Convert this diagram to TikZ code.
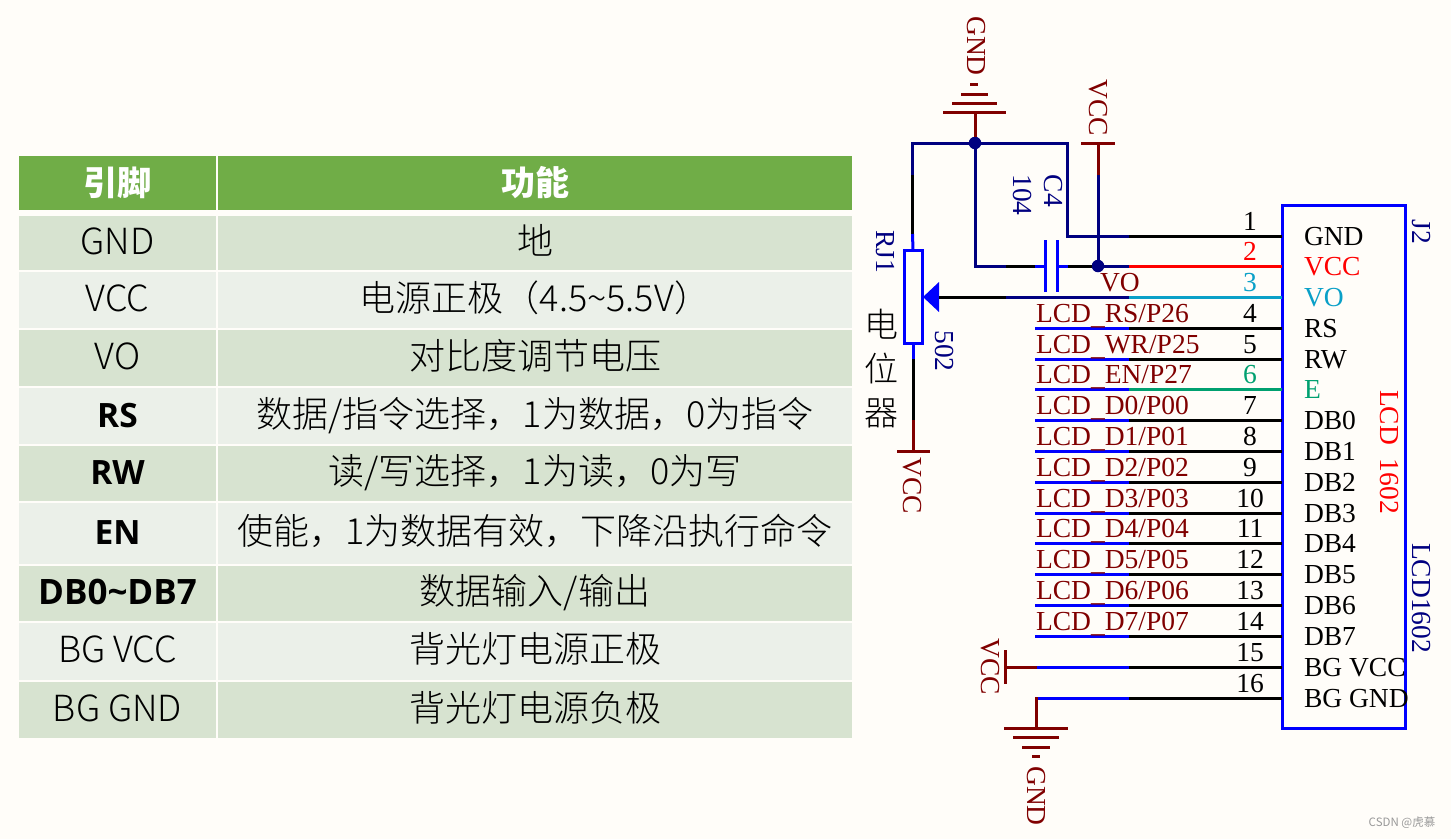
\documentclass[tikz,border=0pt]{standalone}
\usepackage{fontspec}
\setmainfont{Liberation Serif}
\newfontfamily\tblfont{Noto Sans CJK SC Light}
\newfontfamily\headfont{Noto Sans CJK SC}
\newfontfamily\boldlat{Open Sans}
\definecolor{pagebg}{HTML}{FFFDF9}
\definecolor{headgreen}{HTML}{70AD47}
\definecolor{rowa}{HTML}{D7E3D0}
\definecolor{rowb}{HTML}{EBF0E9}
\definecolor{navy}{HTML}{000080}
\definecolor{pblue}{HTML}{0000FF}
\definecolor{dred}{HTML}{800000}
\definecolor{vocyan}{HTML}{0AA0C8}
\definecolor{egreen}{HTML}{00A070}
\newcommand{\us}{\raisebox{-2pt}{\_}}
\tikzset{
  x=1pt,y=-1pt,
  cell/.style={inner sep=0pt,outer sep=0pt,font=\tblfont\fontsize{36}{40}\selectfont,text height=28pt,text depth=6pt,align=center},
  headcell/.style={cell,fill=headgreen,text=white,font=\headfont\bfseries\fontsize{34}{38}\selectfont,text height=31pt,text depth=6pt},
  wire/.style={line width=3pt,line cap=butt,line join=miter},
  sch/.style={inner sep=0pt,outer sep=0pt,font=\fontsize{27.5}{30}\selectfont},
  rot/.style={sch,rotate=-90,anchor=center},
  pinnum/.style={sch,anchor=base},
  pinname/.style={sch,anchor=base west},
  netlabel/.style={sch,anchor=base west,text=dred},
  dot/.style={circle,fill=navy,minimum size=12.5pt,inner sep=0pt,outer sep=0pt},
}
\newcommand{\blat}[2][33.5]{{\boldlat\bfseries\fontsize{#1}{38}\selectfont #2}}
\newcommand{\tcell}[7]{% name, x1, x2, y1, y2, style, text
  \node[#6,minimum width=#3pt-#2pt,minimum height=#5pt-#4pt] (#1) at ({(#2+#3)/2},{(#4+#5)/2}) {#7};}
\newcommand{\trow}[6]{% name,y1,y2,fill,left,right
  \tcell{#1l}{19}{216}{#2}{#3}{cell,fill=#4}{#5}
  \tcell{#1r}{218}{852}{#2}{#3}{cell,fill=#4}{#6}}
\begin{document}
\begin{tikzpicture}
\useasboundingbox (0,0) rectangle (1451,839);
\fill[pagebg] (0,0) rectangle (1451,839);
% ---------- table ----------
\tcell{hl}{19}{216}{156}{210}{headcell}{引脚}
\tcell{hr}{218}{852}{156}{210}{headcell}{功能}
\trow{r1}{216}{270}{rowa}{GND}{地}
\trow{r2}{272}{328}{rowb}{VCC}{电源正极（4.5\textasciitilde 5.5V）}
\trow{r3}{330}{386}{rowa}{VO}{对比度调节电压}
\trow{r4}{388}{444}{rowb}{\blat{RS}}{数据/指令选择，1为数据，0为指令}
\trow{r5}{446}{501}{rowa}{\blat{RW}}{读/写选择，1为读，0为写}
\trow{r6}{503}{564}{rowb}{\blat{EN}}{使能，1为数据有效，下降沿执行命令}
\trow{r7}{566}{621}{rowa}{\blat[35]{DB0\textasciitilde DB7}}{数据输入/输出}
\trow{r8}{623}{680}{rowb}{BG VCC}{背光灯电源正极}
\trow{r9}{682}{738}{rowa}{BG GND}{背光灯电源负极}
% ---------- connector box ----------
\node[draw=pblue,line width=3pt,minimum width=123pt,minimum height=523pt,inner sep=0pt,outer sep=0pt] (lcd) at (1343.5,466.5) {};
% pin coordinates
\foreach \n/\yy in {1/236,2/266,3/297,4/328,5/359,6/389,7/420,8/451,9/482,10/513,11/543,12/574,13/605,14/636,15/667,16/698}{
  \coordinate (pin\n) at (1282,\yy);
  \coordinate (lab\n) at (1129,\yy);
  \coordinate (net\n) at (1035,\yy);
}
\foreach \n in {4,5,7,8,9,10,11,12,13,14,15,16}{\draw[wire,black] (lab\n) -- (pin\n);}
\foreach \n in {4,5,6,7,8,9,10,11,12,13,14,16}{\draw[wire,pblue] (net\n) -- (lab\n);}
\draw[wire,egreen] (lab6) -- (pin6);
% net labels
\foreach \n/\a/\b in {4/RS/P26,5/WR/P25,6/EN/P27,7/D0/P00,8/D1/P01,9/D2/P02,10/D3/P03,11/D4/P04,12/D5/P05,13/D6/P06,14/D7/P07}{
  \node[netlabel] (netlabel\n) at ([xshift=1pt,yshift=5.5pt]net\n) {LCD\us\a/\b};
}
% pin numbers
\foreach \n/\c in {1/black,2/red,3/vocyan,4/black,5/black,6/egreen,7/black,8/black,9/black,10/black,11/black,12/black,13/black,14/black,15/black,16/black}{
  \node[pinnum,text=\c] (num\n) at ([xshift=-32pt,yshift=6pt]pin\n) {\n};
}
% pin names
\foreach \n/\t/\c in {1/GND/black,2/VCC/red,3/VO/vocyan,4/RS/black,5/RW/black,6/E/egreen,7/DB0/black,8/DB1/black,9/DB2/black,10/DB3/black,11/DB4/black,12/DB5/black,13/DB6/black,14/DB7/black,15/BG VCC/black,16/BG GND/black}{
  \node[pinname,text=\c] (name\n) at ([xshift=22pt,yshift=-9pt]pin\n) {\t};
}
\node[rot,text=navy] (j2) at (1421,232) {J2};
\node[rot,text=navy] (lcdval) at (1421,598) {LCD1602};
\node[rot,text=red] (lcdname) at (1389,452) {LCD\ \ 1602};
% ---------- top GND ----------
\coordinate (gndtop) at (975,112);
\node[dot] (j1) at (975,143) {};
\coordinate (cleft) at (1045,266);
\coordinate (cright) at (1057,266);
\node[dot] (j2dot) at (1098,266) {};
\draw[wire,dred] (gndtop) -- (j1);
\draw[dred,line width=3pt] (943,112) -- (1006,112) (952,103) -- (997,103) (961,94) -- (988,94) (970,84.5) -- (978,84.5);
\node[rot,text=dred] (gndtoplabel) at (976,46) {GND};
% wire from pin 1
\draw[wire,navy] (j1) -- (1067,143) -- (1067,236) -- (lab1);
\draw[wire,black] (lab1) -- (pin1);
% left branch to potentiometer
\node[draw=pblue,line width=3pt,minimum width=18pt,minimum height=93pt,inner sep=0pt,outer sep=0pt] (rj) at (913,296.5) {};
\draw[wire,navy] (j1) -- (912.5,143) -- (912.5,175);
\draw[wire,black] (912.5,175) -- (912.5,234);
\draw[wire,pblue] (912.5,234) -- (rj.north);
% capacitor
\draw[wire,navy] (j1) -- (975,266) -- (1006,266);
\draw[wire,black] (1006,266) -- (1035,266);
\draw[wire,pblue] (1035,266) -- (cleft);
\draw[wire,pblue] (1045,240) -- (1045,292);
\draw[wire,pblue] (1057,240) -- (1057,292);
\draw[wire,pblue] (cright) -- (1068,266);
\draw[wire,black] (1068,266) -- (j2dot);
\draw[wire,navy] (j2dot) -- (lab2);
\draw[wire,red] (lab2) -- (pin2);
\node[rot,text=navy] (c4) at (1053,191) {C4};
\node[rot,text=navy] (c4val) at (1022,195) {104};
% VCC top
\coordinate (vcctop) at (1098,143);
\draw[wire,dred] (1081,143) -- (1115,143);
\draw[wire,dred] (vcctop) -- (1098,175);
\draw[wire,navy] (1098,175) -- (j2dot);
\node[rot,text=dred] (vcctoplabel) at (1098,108) {VCC};
% wiper
\coordinate (wip) at (923,297);
\fill[pblue] (wip) -- (939,282) -- (939,312) -- cycle;
\draw[wire,black] (939,297) -- (1006,297);
\draw[wire,navy] (1006,297) -- (lab3);
\draw[wire,vocyan] (lab3) -- (pin3);
\node[netlabel] (vol) at (1100,291) {VO};
\node[rot,text=navy] (rjname) at (885.5,252) {RJ1};
\node[rot,text=navy] (rjval) at (944,351) {502};
\node[inner sep=0pt,align=center,font=\tblfont\fontsize{34}{44}\selectfont] (dw) at (881,369) {电\\位\\器};
% bottom of potentiometer
\coordinate (vccb) at (913,451);
\draw[wire,pblue] (rj.south) -- (913,359);
\draw[wire,black] (913,359) -- (913,420);
\draw[wire,dred] (913,420) -- (vccb);
\draw[wire,dred] (897,451) -- (930,451);
\node[rot,text=dred] (vccblabel) at (912,486) {VCC};
% pin 15 VCC
\coordinate (v15) at (1005,667);
\draw[wire,dred] (1005,650) -- (1005,684);
\draw[wire,dred] (v15) -- (1037,667);
\draw[wire,pblue] (1037,667) -- (lab15);
\node[rot,text=dred] (v15label) at (990,667) {VCC};
% pin 16 GND
\coordinate (g16) at (1036,728);
\draw[wire,dred] (1036,697) -- (g16);
\draw[dred,line width=3pt] (1004,728) -- (1068,728) (1013,737.5) -- (1059,737.5) (1022,747) -- (1050,747) (1032,756) -- (1040,756);
\node[rot,text=dred] (g16label) at (1036,796) {GND};
% watermark
\node[inner sep=0pt,text=black!40,font=\headfont\fontsize{11.5}{13}\selectfont] (wm) at (1402,823) {CSDN @虎慕};
\end{tikzpicture}
\end{document}
